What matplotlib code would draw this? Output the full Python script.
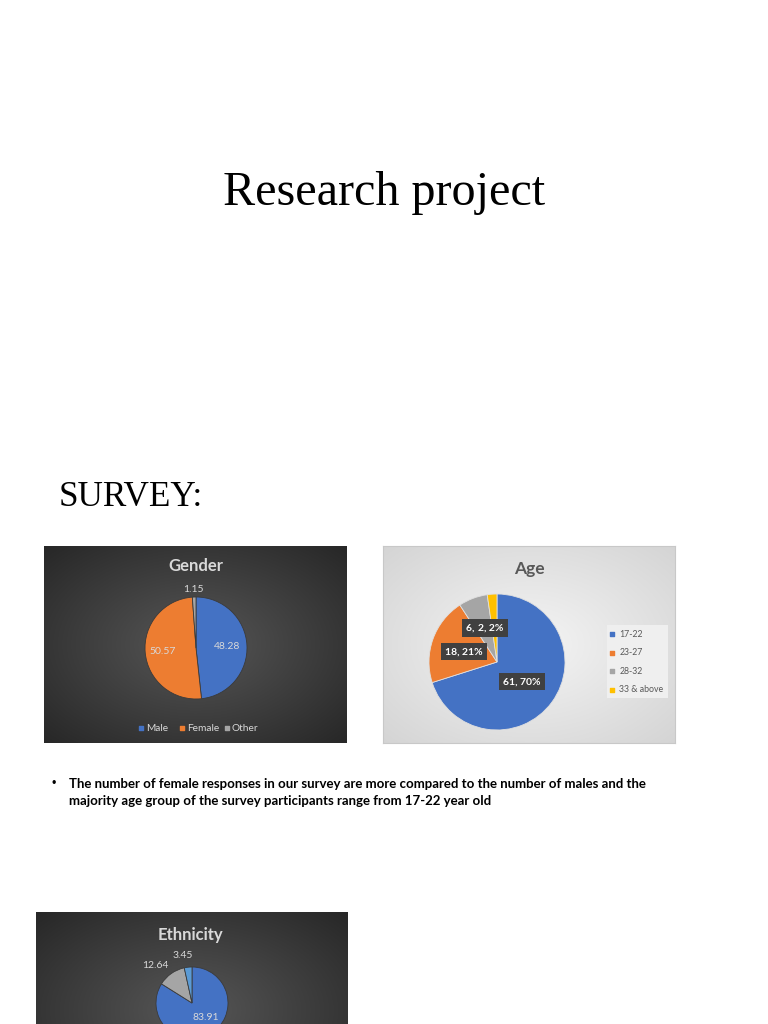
#!/usr/bin/env python3
import matplotlib
matplotlib.use("Agg")
import matplotlib.pyplot as plt
import numpy as np

# chart data
gender_labels = ["Male", "Female", "Other"]
gender_values = [48.28, 50.57, 1.15]

age_labels = ["17-22", "23-27", "28-32", "33 & above"]
age_counts = [61, 18, 6, 2]

ethnicity_values = [83.91, 12.64, 3.45]

bullet_lines = [
    "The number of female responses in our survey are more compared to the number of males and the",
    "majority age group of the survey participants range from 17-22 year old",
]

W, H = 768, 1024


def px_axes(fig, x, y, w, h, **kw):
    # rectangle given in image pixels (top-left origin)
    return fig.add_axes([x / W, 1 - (y + h) / H, w / W, h / H], **kw)


def radial_bg(ax, inner, outer, cx=0.5, cy=0.5):
    yy, xx = np.mgrid[0:1:200j, 0:1:200j]
    d = np.sqrt((xx - cx) ** 2 + (yy - cy) ** 2) / 0.72
    d = np.clip(d, 0, 1)[..., None]
    img = np.array(inner)[None, None, :] * (1 - d) + np.array(outer)[None, None, :] * d
    ax.imshow(img, extent=[0, 1, 0, 1], aspect="auto", zorder=0)
    ax.set_xlim(0, 1)
    ax.set_ylim(0, 1)
    ax.set_xticks([])
    ax.set_yticks([])


def draw_pie(fig, cx, cy, r, values, colors, edge):
    ax = px_axes(fig, cx - r, cy - r, 2 * r, 2 * r)
    ax.pie(values, colors=colors, startangle=90, counterclock=False, radius=1,
           wedgeprops=dict(linewidth=0.6, edgecolor=edge))
    ax.set_xlim(-1, 1)
    ax.set_ylim(-1, 1)
    ax.set_aspect("equal")
    ax.axis("off")
    ax.patch.set_alpha(0)
    return ax


def mid_angles(values):
    fr = np.array(values) / np.sum(values)
    ends = 90 - 360 * np.cumsum(fr)
    starts = ends + 360 * fr
    return np.deg2rad((starts + ends) / 2)


def main():
    plt.rcParams["font.family"] = ["Liberation Sans", "DejaVu Sans"]
    sans = ["Lato", "DejaVu Sans"]
    fig = plt.figure(figsize=(W / 100, H / 100), dpi=100)
    fig.patch.set_facecolor("white")

    serif = ["Liberation Serif", "DejaVu Serif"]
    fig.text(384 / W, 1 - 193 / H, "Research project", family=serif, fontsize=34.7,
             ha="center", va="center", color="black")
    fig.text(59 / W, 1 - 497 / H, "SURVEY:", family=serif, fontsize=25.3,
             ha="left", va="center", color="black")

    blue, orange, gray, yellow, lblue = "#4472C4", "#ED7D31", "#A5A5A5", "#FFC000", "#5B9BD5"

    # ---- Gender panel
    bg = px_axes(fig, 44, 546, 303, 197)
    radial_bg(bg, (0.34, 0.34, 0.34), (0.15, 0.15, 0.15))
    for s in bg.spines.values():
        s.set_visible(False)
    bg.text(0.5, 0.9, "Gender", ha="center", va="center", fontsize=12, fontweight="bold",
            color="#d9d9d9", family=sans)
    ax = draw_pie(fig, 196, 648, 51, gender_values, [blue, orange, gray], "#3a3a3a")
    dist = [0.62, 0.66, 1.14]
    for v, a, d in zip(gender_values, mid_angles(gender_values), dist):
        ax.text(d * np.cos(a), d * np.sin(a), f"{v:.2f}", ha="center", va="center",
                fontsize=7.5, color="#d9d9d9", family=sans, clip_on=False)
    lx = [0.32, 0.455, 0.604]
    for name, c, x in zip(gender_labels, [blue, orange, gray], lx):
        bg.scatter([x], [0.076], marker="s", s=11, color=c, zorder=3)
        bg.text(x + 0.016, 0.076, name, ha="left", va="center", fontsize=7.3,
                color="#d9d9d9", family=sans)

    # ---- Age panel
    bg = px_axes(fig, 383, 546, 292, 197)
    radial_bg(bg, (0.96, 0.96, 0.96), (0.83, 0.83, 0.83))
    for s in bg.spines.values():
        s.set_color("#c8c8c8")
        s.set_linewidth(0.8)
    bg.text(0.5, 0.885, "Age", ha="center", va="center", fontsize=12.5, fontweight="bold",
            color="#595959", family=sans)
    ax = draw_pie(fig, 497, 662, 68, age_counts, [blue, orange, gray, yellow], "#e0e0e0")
    total = sum(age_counts)
    box = dict(boxstyle="square,pad=0.4", facecolor="#404040", edgecolor="none")
    spots = [(0.37, -0.29), (-0.49, 0.15), (-0.27, 0.50), (-0.09, 0.50)]
    for k, (n, (x, y)) in enumerate(zip(age_counts, spots)):
        ax.text(x, y, f"{n}, {round(100 * n / total)}%", ha="center", va="center",
                fontsize=7.5, fontweight="bold", color="white", bbox=box,
                family=sans, clip_on=False, zorder=5 + k)
    lg = px_axes(fig, 607, 625, 61, 73)
    lg.set_facecolor("#efefef")
    lg.set_xlim(0, 1)
    lg.set_ylim(0, 1)
    lg.set_xticks([])
    lg.set_yticks([])
    for s in lg.spines.values():
        s.set_visible(False)
    for i, (name, c) in enumerate(zip(age_labels, [blue, orange, gray, yellow])):
        y = 0.875 - i * 0.255
        lg.scatter([0.09], [y], marker="s", s=10, color=c)
        lg.text(0.2, y, name, ha="left", va="center", fontsize=6.3, color="#595959",
                family=sans)

    # ---- bullet text
    fig.text(52 / W, 1 - 784 / H, "\u2022", fontsize=9, ha="left", va="center", color="black")
    for i, line in enumerate(bullet_lines):
        fig.text(69 / W, 1 - (784 + 17 * i) / H, line, fontsize=9.5, fontweight="bold",
                 ha="left", va="center", color="black", family=sans)

    # ---- Ethnicity panel (cut off at the bottom of the page)
    bg = px_axes(fig, 36, 912, 312, 197)
    radial_bg(bg, (0.34, 0.34, 0.34), (0.15, 0.15, 0.15))
    for s in bg.spines.values():
        s.set_visible(False)
    bg.text(0.495, 0.885, "Ethnicity", ha="center", va="center", fontsize=12, fontweight="bold",
            color="#d9d9d9", family=sans)
    ax = draw_pie(fig, 192, 1003, 36, ethnicity_values, [blue, gray, lblue], "#3a3a3a")
    spots = [(0.39, -0.39), (-1.03, 1.05), (-0.25, 1.31)]
    for v, (x, y) in zip(ethnicity_values, spots):
        ax.text(x, y, f"{v:.2f}", ha="center", va="center", fontsize=7.5, color="#d9d9d9",
                family=sans, clip_on=False)

    fig.savefig("out.png", dpi=100)
    return 0


if __name__ == "__main__":
    raise SystemExit(main())
